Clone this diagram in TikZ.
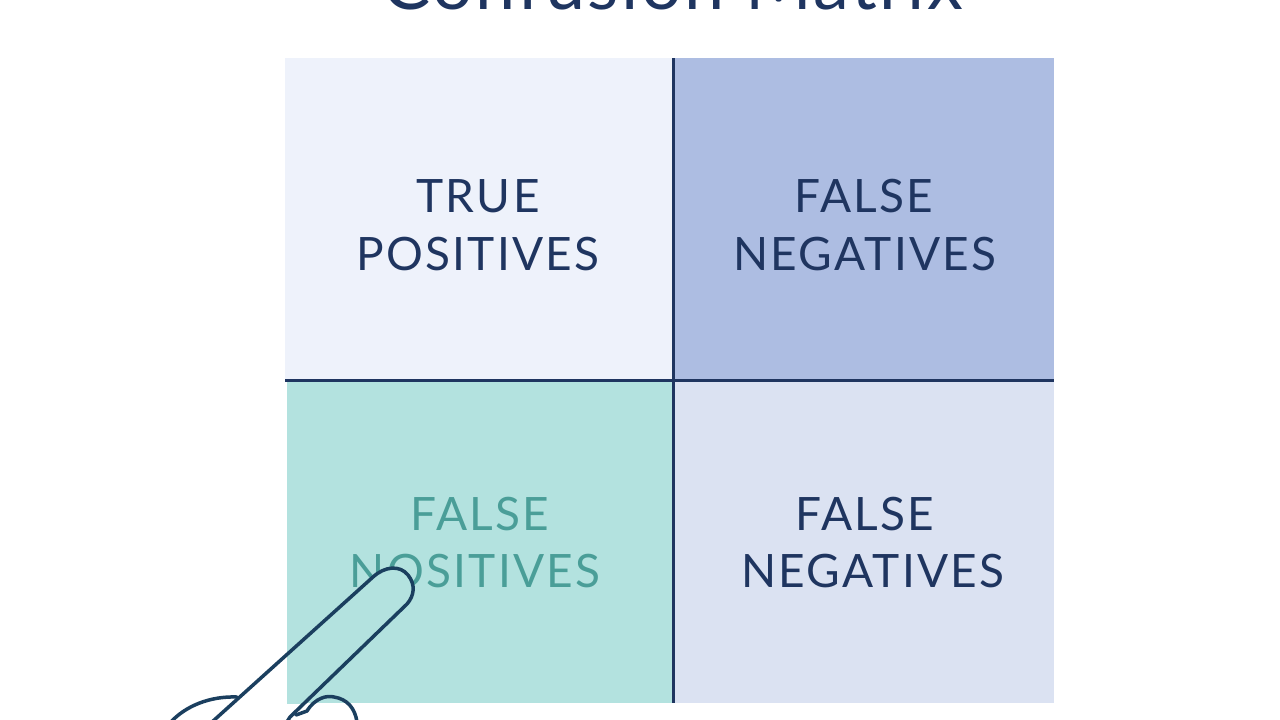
\documentclass[tikz,border=0pt]{standalone}
\usepackage{fontspec}
\setmainfont{Lato}
\definecolor{navy}{HTML}{1F3560}
\definecolor{tealtxt}{HTML}{4A9E98}
\definecolor{handline}{HTML}{1B3F5F}
\definecolor{cellA}{HTML}{EEF2FB}
\definecolor{cellB}{HTML}{ADBDE2}
\definecolor{cellC}{HTML}{B3E2DF}
\definecolor{cellD}{HTML}{DBE2F2}
\tikzset{
  lab/.style={anchor=base,inner sep=0pt,text=navy,font=\fontsize{46}{46}\selectfont},
  labt/.style={lab,text=tealtxt},
  rule/.style={draw=navy,line width=3pt},
  handstroke/.style={draw=handline,line width=3.5pt,line cap=round,line join=round}
}
\begin{document}
\begin{tikzpicture}[x=1pt,y=-1pt]
\useasboundingbox (0,0) rectangle (1280,720);
\clip (0,0) rectangle (1280,720);
\fill[white] (0,0) rectangle (1280,720);
\node[lab,font=\fontsize{72}{72}\selectfont] (title) at (673,9.5) {\addfontfeature{LetterSpace=3.3}Confusion Matrix};
\fill[cellA] (285,58) rectangle (673,380);
\fill[cellB] (673,58) rectangle (1054,380);
\fill[cellC] (287,380) rectangle (673,703);
\fill[cellD] (673,380) rectangle (1054,703);
\coordinate (vt) at (673,58);
\coordinate (vb) at (673,703);
\coordinate (hl) at (285,380);
\coordinate (hr) at (1054,380);
\draw[rule] (vt) -- (vb);
\draw[rule] (hl) -- (hr);
\node[lab] (tp1) at (478,212) {\addfontfeature{LetterSpace=5}TRUE};
\node[lab] (tp2) at (478,270) {\addfontfeature{LetterSpace=5}POSITIVES};
\node[lab] (fn1) at (864,212) {\addfontfeature{LetterSpace=5}FALSE};
\node[lab] (fn2) at (865,270) {\addfontfeature{LetterSpace=5}NEGATIVES};
\node[labt] (fp1) at (480,530) {\addfontfeature{LetterSpace=5}FALSE};
\node[labt] (fp2) at (475,587) {\addfontfeature{LetterSpace=5}NOSITIVES};
\node[lab] (fn3) at (865,530) {\addfontfeature{LetterSpace=5}FALSE};
\node[lab] (fn4) at (873,587) {\addfontfeature{LetterSpace=5}NEGATIVES};
% hand
\def\fingerpath{(212,722) -- (373,577) .. controls (385,566) and (400,565) .. (408,575) .. controls (416,585) and (414,596) .. (407,604) -- (290,717) -- (285,725)}
\fill[white] \fingerpath -- cycle;
\begin{scope}
\clip (287,380) rectangle (673,703);
\fill[cellC] \fingerpath -- cycle;
\end{scope}
\draw[handstroke] \fingerpath;
\draw[handstroke] (170,723) .. controls (185,706) and (210,696) .. (237,697);
\draw[handstroke] (296,715) -- (307,711) .. controls (315,698) and (327,695) .. (334,697) .. controls (347,699) and (355,708) .. (357,722);
\end{tikzpicture}
\end{document}
